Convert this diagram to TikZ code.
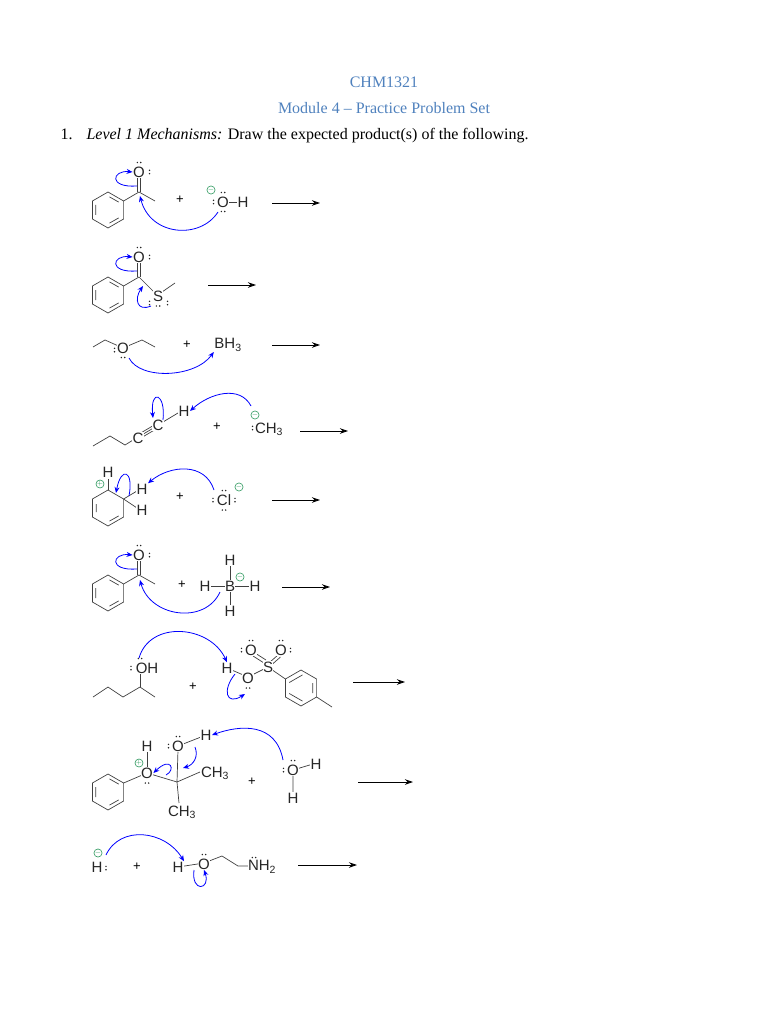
\documentclass[tikz,border=0pt]{standalone}
\usepackage{fontspec}
\setmainfont{Liberation Serif}
\newfontfamily\atomfont{Liberation Sans}
\usetikzlibrary{arrows.meta}
\definecolor{hdr}{RGB}{79,129,189}
\definecolor{chg}{RGB}{40,150,90}
\tikzset{
 bond/.style={line width=0.7pt, draw=black!75},
 atom/.style={font=\atomfont\fontsize{15}{15}\selectfont, inner sep=0.4pt, fill=white, text=black!85},
 curly/.style={draw=blue, line width=0.8pt, -{Stealth[length=6pt,width=5pt]}},
 rxn/.style={line width=0.9pt, -{Stealth[length=8pt,width=5.5pt]}},
 plus/.style={font=\atomfont\fontsize{13}{13}\selectfont},
 charge/.style={draw=chg, circle, inner sep=0pt, minimum size=8pt, text=chg, font=\fontsize{7.5}{7}\selectfont, line width=0.6pt},
}
\newcommand\sbs[1]{\textsubscript{#1}}
\newcommand\lph[2]{\fill[black!85] (#1-1.7,#2) circle (0.8pt) (#1+1.7,#2) circle (0.8pt);}
\newcommand\lpv[2]{\fill[black!85] (#1,#2-1.7) circle (0.8pt) (#1,#2+1.7) circle (0.8pt);}
\newcommand\benz[2]{\begin{scope}[shift={(#1,#2)}]
\draw[bond] (0,-18)--(15.6,-9)--(15.6,9)--(0,18)--(-15.6,9)--(-15.6,-9)--cycle;
\draw[bond] (-12.2,-5)--(-12.2,5) (1.5,13.1)--(10.7,7.9) (1.5,-13.1)--(10.7,-7.9);
\end{scope}}
\begin{document}
\begin{tikzpicture}[x=1pt,y=-1pt]
\useasboundingbox (0,0) rectangle (768,1024);
\node[text=hdr, font=\fontsize{16}{18}\selectfont] (t1) at (384,82) {CHM1321};
\node[text=hdr, font=\fontsize{16}{18}\selectfont] (t2) at (384,108) {Module 4 -- Practice Problem Set};
\node[anchor=west, font=\fontsize{16}{18}\selectfont] (t3) at (57,136) {1.\hspace{14pt}\textit{Level 1 Mechanisms:} Draw the expected product(s) of the following.};

% ---------- Row 1
\benz{108}{210}
\draw[bond] (123.6,201)--(139,192)--(155,201);
\draw[bond] (137.5,192)--(137.5,178) (140.5,192)--(140.5,178);
\node[atom] (o1) at (139,172) {O};
\lph{139}{162.5}\lpv{149.5}{172}
\node[atom] (oh1) at (223,202) {O};
\node[atom] (h1) at (243,202) {H};
\draw[bond] (oh1.east)--(h1.west);
\lpv{213.5}{202}\lph{223}{192.5}\lph{223}{211.5}
\node[charge] (c1) at (211,190) {$-$};
\node[plus] (p1) at (180,200) {+};
\coordinate (a1s) at (137,186);
\draw[curly] (a1s) .. controls (108,188) and (112,170) .. (o1.west);
\coordinate (a1b) at (140,196);
\draw[curly] (218,212) .. controls (200,240) and (150,236) .. (a1b);
\coordinate (r1a) at (272,203); \coordinate (r1b) at (320,203);
\draw[rxn] (r1a)--(r1b);

% ---------- Row 2
\benz{108}{295}
\draw[bond] (123.6,286)--(139,277)--(154,292);
\draw[bond] (137.5,277)--(137.5,263) (140.5,277)--(140.5,263);
\draw[bond] (162,292)--(175,283);
\node[atom] (o2) at (139,257) {O};
\node[atom] (s2) at (158,296) {S};
\lph{139}{247.5}\lpv{149.5}{257}
\lpv{149.5}{303}\lpv{167.5}{303}\lph{158}{306}
\coordinate (a2s) at (137,271);
\draw[curly] (a2s) .. controls (108,273) and (112,255) .. (o2.west);
\coordinate (a2b) at (143,286);
\draw[curly] (151,306) .. controls (137,312) and (134,299) .. (a2b);
\coordinate (r2a) at (208,285); \coordinate (r2b) at (256,285);
\draw[rxn] (r2a)--(r2b);

% ---------- Row 3
\draw[bond] (93,347)--(105,340)--(123,348)--(142,340)--(155,347);
\node[atom] (o3) at (123,348) {O};
\lpv{114.5}{350}\lph{123}{357.5}
\node[plus] (p3) at (187,345) {+};
\node[atom] (b3) at (228,345) {BH\sbs{3}};
\coordinate (a3s) at (129,358);
\draw[curly] (a3s) .. controls (140,380) and (195,378) .. (b3.south west);
\coordinate (r3a) at (272,345); \coordinate (r3b) at (320,345);
\draw[rxn] (r3a)--(r3b);

% ---------- Row 4
\draw[bond] (93,446)--(110,436)--(125,445)--(138,437);
\draw[bond] (142.5,434.5)--(153.5,428) (141.4,432.6)--(152.4,426.1) (143.6,436.4)--(154.6,429.9);
\draw[bond] (158,425)--(178,413);
\node[atom] (c4a) at (138,438) {C};
\node[atom] (c4b) at (158,425) {C};
\node[atom] (h4) at (184,411) {H};
\node[plus] (p4) at (217,427) {+};
\node[atom] (m4) at (269,429) {CH\sbs{3}};
\lpv{252.5}{428}\node[charge] (c4) at (255,415) {$-$};
\coordinate (a4s) at (251,406);
\draw[curly] (a4s) .. controls (240,385) and (210,393) .. (h4.east);
\coordinate (a4l) at (163,420);
\draw[curly] (a4l) .. controls (166,393) and (150,388) .. (153,418);
\coordinate (r4a) at (300,431); \coordinate (r4b) at (348,431);
\draw[rxn] (r4a)--(r4b);

% ---------- Row 5
\draw[bond] (108,490)--(123.6,499)--(123.6,517)--(108,526)--(92.4,517)--(92.4,499)--cycle;
\draw[bond] (96.2,504)--(96.2,512) (109.5,521.1)--(118.7,515.9);
\draw[bond] (108,490)--(108,479);
\draw[bond] (123.6,499)--(137,491) (123.6,499)--(137,508);
\node[atom] (h5a) at (108,472) {H};
\node[atom] (h5b) at (142,489) {H};
\node[atom] (h5c) at (142,510) {H};
\node[charge] (c5) at (100,484) {$+$};
\node[plus] (p5) at (180,497) {+};
\node[atom] (cl5) at (224,500) {Cl};
\lpv{213}{500}\lpv{235}{500}\lph{224}{510}\lph{224}{490.5}
\node[charge] (c5b) at (239,487) {$-$};
\coordinate (a5s) at (214,490);
\draw[curly] (a5s) .. controls (205,462) and (170,465) .. (h5b.north east);
\coordinate (a5l) at (129,496);
\draw[curly] (a5l) .. controls (134,470) and (121,466) .. (116,493);
\coordinate (r5a) at (272,500); \coordinate (r5b) at (320,500);
\draw[rxn] (r5a)--(r5b);

% ---------- Row 6
\benz{108}{593}
\draw[bond] (123.6,584)--(139,575)--(155,584);
\draw[bond] (137.5,575)--(137.5,561) (140.5,575)--(140.5,561);
\node[atom] (o6) at (139,555) {O};
\lph{139}{545.5}\lpv{149.5}{555}
\draw[bond] (206,586)--(254,586) (230,562)--(230,608);
\node[atom] (b6) at (230,586) {B};
\node[atom] (h6l) at (205,586) {H};
\node[atom] (h6r) at (255,586) {H};
\node[atom] (h6t) at (230,560) {H};
\node[atom] (h6b) at (230,611) {H};
\node[charge] (c6) at (240,577) {$-$};
\node[plus] (p6) at (182,585) {+};
\coordinate (a6s) at (137,569);
\draw[curly] (a6s) .. controls (108,571) and (112,553) .. (o6.west);
\coordinate (a6b) at (140,580);
\draw[curly] (220,592) .. controls (205,625) and (150,617) .. (a6b);
\coordinate (r6a) at (282,587); \coordinate (r6b) at (330,587);
\draw[rxn] (r6a)--(r6b);

% ---------- Row 7
\draw[bond] (93,697)--(108,687)--(123,697)--(140,687)--(155,697);
\draw[bond] (140,687)--(140,672);
\node[atom] (oh7) at (147,668) {OH};
\lpv{131}{668}\lph{140}{658.5}
\node[plus] (p7) at (193,687) {+};
\draw[bond] (227,668)--(248,677)--(268,667)--(285.4,679);
\draw[bond] (264,663)--(253,656) (266,660)--(255,653);
\draw[bond] (270,662)--(278,655) (272.5,664)--(280.5,657);
\draw[bond] (301,670)--(316.6,679)--(316.6,697)--(301,706)--(285.4,697)--(285.4,679)--cycle;
\draw[bond] (312.8,683)--(312.8,693) (302.5,701.1)--(289.3,693.5) (302.5,674.9)--(289.3,682.5);
\draw[bond] (316.6,697)--(332,707);
\node[atom] (h7) at (227,668) {H};
\node[atom] (o7) at (248,678) {O};
\node[atom] (s7) at (268,667) {S};
\node[atom] (o7a) at (251,650) {O};
\node[atom] (o7b) at (281,650) {O};
\lph{251}{640.5}\lpv{241.5}{650}\lph{281}{640.5}\lpv{290.5}{650}\lph{248}{688}
\coordinate (a7s) at (139,658);
\draw[curly] (a7s) .. controls (150,620) and (210,625) .. (h7.north);
\coordinate (a7l) at (235,674);
\draw[curly] (a7l) .. controls (222,690) and (226,706) .. (245,694);
\coordinate (r7a) at (353,682); \coordinate (r7b) at (405,682);
\draw[rxn] (r7a)--(r7b);

% ---------- Row 8
\benz{108}{792}
\draw[bond] (123.6,783)--(147,773)--(177,782);
\draw[bond] (147,773)--(147,752);
\draw[bond] (177,782)--(200,772) (177,782)--(179,803) (177,782)--(178,750) (178,746)--(201,737);
\node[atom] (o8) at (147,773) {O};
\node[atom] (h8) at (147,746) {H};
\node[charge] (c8) at (139,763) {$+$};
\lph{147}{783}
\node[atom] (me8a) at (215,773) {CH\sbs{3}};
\node[atom] (me8b) at (182,812) {CH\sbs{3}};
\node[atom] (o8t) at (178,746) {O};
\node[atom] (h8t) at (206,735) {H};
\lpv{168.5}{746}\lph{178}{736.5}
\node[plus] (p8) at (252,782) {+};
\draw[bond] (293,770)--(313,764) (293,770)--(293,795);
\node[atom] (ow) at (293,770) {O};
\node[atom] (hw1) at (316,764) {H};
\node[atom] (hw2) at (293,798) {H};
\lpv{283.5}{770}\lph{293}{760.5}
\coordinate (a8s) at (283,760);
\draw[curly] (a8s) .. controls (276,722) and (240,725) .. (h8t.east);
\coordinate (a8m) at (195,747);
\draw[curly] (a8m) .. controls (199,757) and (193,765) .. (183,768);
\coordinate (a8n) at (166,775);
\draw[curly] (a8n) .. controls (176,770) and (171,756) .. (o8.east);
\coordinate (r8a) at (358,782); \coordinate (r8b) at (413,782);
\draw[rxn] (r8a)--(r8b);

% ---------- Row 9
\node[atom] (h9) at (97,867) {H};
\lpv{106}{868}
\node[charge] (c9) at (98,853) {$-$};
\node[plus] (p9) at (137,867) {+};
\draw[bond] (178,867)--(204,863)--(222,856)--(238,866)--(252,866);
\node[atom] (h9b) at (178,867) {H};
\node[atom] (o9) at (204,864) {O};
\node[atom] (n9) at (262,867) {NH\sbs{2}};
\lph{204}{854.5}\lph{254}{857.5}
\coordinate (a9s) at (106,855);
\draw[curly] (a9s) .. controls (120,825) and (165,830) .. (h9b.north east);
\coordinate (a9l) at (194,870);
\draw[curly] (a9l) .. controls (191,893) and (211,890) .. (o9.south);
\coordinate (r9a) at (298,865); \coordinate (r9b) at (357,865);
\draw[rxn] (r9a)--(r9b);
\end{tikzpicture}
\end{document}
